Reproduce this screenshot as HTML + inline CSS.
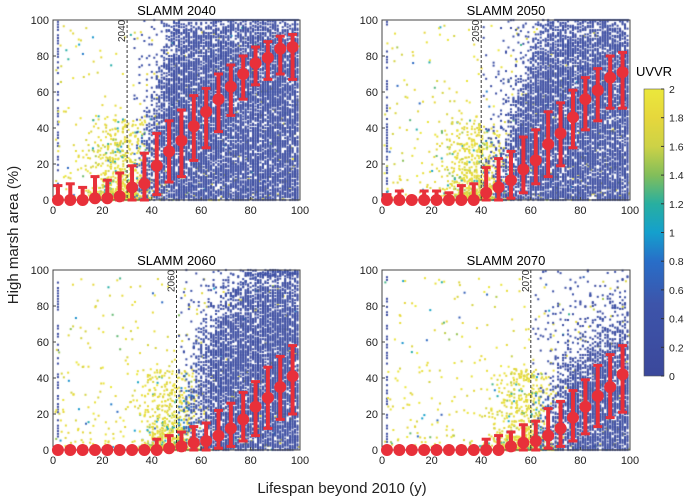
<!DOCTYPE html>
<html><head><meta charset="utf-8"><style>
html,body{margin:0;padding:0;background:#fff;}
#wrap{position:relative;width:685px;height:500px;overflow:hidden;font-family:"Liberation Sans",sans-serif;}
canvas,svg{position:absolute;left:0;top:0;}
</style></head><body>
<div id="wrap">
<canvas id="cv" width="685" height="500"></canvas>
<svg id="sv" width="685" height="500"></svg>
</div>
<script>
const lifespans=[2,7,12,17,22,27,32,37,42,47,52,57,62,67,72,77,82,87,92,97];
const titles=["SLAMM 2040","SLAMM 2050","SLAMM 2060","SLAMM 2070"];
const thresholds=[30,40,50,60];
const mean2040=[0,0,0,1,1,2,7,9,19,27,33,41,49,56,63,70,76,79,84,85];
const upper2040=[8,9,7,13,11,15,19,26,37,44,50,58,62,70,75,80,85,88,91,92];
const lower2040=[0,0,0,0,0,0,0,0,3,10,13,22,29,38,47,56,64,67,70,67];
const mean2050=[0,0,0,0,0,0,0,0,4,7,11,17,22,31,37,46,56,61,68,71];
const upper2050=[3,5,0,5,5,4,8,9,18,23,27,35,39,49,54,61,68,73,80,82];
const lower2050=[0,0,0,0,0,0,0,0,0,0,1,4,9,13,19,29,39,44,51,51];
const mean2060=[0,0,0,0,0,0,0,0,0,1,2,4,5,8,12,17,24,29,35,41];
const upper2060=[0,0,0,0,0,0,0,0,6,8,10,13,15,22,26,32,38,46,52,58];
const lower2060=[0,0,0,0,0,0,0,0,0,0,0,0,0,1,2,5,8,12,17,20];
const mean2070=[0,0,0,0,0,0,0,0,0,0,2,4,5,8,12,18,24,30,35,42];
const upper2070=[0,0,0,0,0,0,0,0,6,8,10,14,16,23,27,33,39,47,53,58];
const lower2070=[0,0,0,0,0,0,0,0,0,0,0,0,0,1,2,5,9,13,18,21];
const xTicks=[0,20,40,60,80,100];
const yTicks=[0,20,40,60,80,100];
const cbTicks=[0,0.2,0.4,0.6,0.8,1,1.2,1.4,1.6,1.8,2];

const means=[mean2040,mean2050,mean2060,mean2070];
const uppers=[upper2040,upper2050,upper2060,upper2070];
const lowers=[lower2040,lower2050,lower2060,lower2070];
const boxes=[{x0:53,x1:300,y0:20,y1:200},{x0:382,x1:630,y0:20,y1:200},{x0:53,x1:300,y0:270,y1:450},{x0:382,x1:630,y0:270,y1:450}];
const NS="http://www.w3.org/2000/svg";
const sv=document.getElementById('sv');
function mk(t,a,p){const e=document.createElementNS(NS,t);for(const k in a)e.setAttribute(k,a[k]);(p||sv).appendChild(e);return e;}
const stops=[[0,[59,72,155]],[0.25,[61,84,170]],[0.4,[40,110,200]],[0.5,[20,160,205]],[0.6,[40,175,160]],[0.7,[130,190,90]],[0.8,[205,210,70]],[0.9,[230,215,60]],[1,[235,232,60]]];
function cmap(v){v=Math.max(0,Math.min(1,v));for(let i=1;i<stops.length;i++){if(v<=stops[i][0]){const a=stops[i-1],b=stops[i];const t=(v-a[0])/(b[0]-a[0]);return 'rgb('+a[1].map((c,j)=>Math.round(c+(b[1][j]-c)*t)).join(',')+')';}}return 'rgb(235,232,60)';}
// deterministic texture generator for the dense point cloud background
let seed=12345;function rnd(){seed=(seed*1103515245+12345)%2147483648;return seed/2147483648;}
const ctx=document.getElementById('cv').getContext('2d');
function lerpEnv(pts,x){if(x<=pts[0][0])return 0;for(let i=1;i<pts.length;i++){if(x<=pts[i][0]){const a=pts[i-1],b=pts[i];return a[1]+(b[1]-a[1])*(x-a[0])/(b[0]-a[0]);}}return pts[pts.length-1][1];}
const envs=[[[32,5],[36,30],[45,75],[52,100],[100,100]],[[40,5],[42,12],[50,40],[60,75],[70,100],[100,100]],[[50,5],[52,30],[60,58],[70,80],[80,95],[100,97]],[[60,5],[62,15],[70,38],[80,52],[100,70]]];
boxes.forEach((b,pi)=>{
  const sx=v=>b.x0+(b.x1-b.x0)*v/100, sy=v=>b.y1-(b.y1-b.y0)*v/100;
  const T=thresholds[pi];
  function dot(x,y,c){ctx.fillStyle=c;ctx.fillRect(sx(x)-1,sy(y)-1,2,2);}
  for(let y=0;y<=100;y+=1.5){if(rnd()<0.5)dot(2,y,cmap(0.08));}
  for(let x=1;x<=99;x++){
    const nY=x<T?4:3;
    for(let k=0;k<nY;k++){const y=Math.pow(rnd(),1.8)*97;dot(x+rnd()*0.6,y,cmap(rnd()<0.15?0.3+rnd()*0.5:0.82+rnd()*0.18));}
    if(x>T-22&&x<T+12){const w=Math.exp(-Math.pow((x-T+3)/9,2));const n=Math.round(45*w);
      for(let k=0;k<n;k++){const y=Math.pow(rnd(),2.6)*45;dot(x+rnd()*0.6,y,cmap(rnd()<0.12?0.5+rnd()*0.3:0.84+rnd()*0.14));}}
    const U=lerpEnv(envs[pi],x);
    if(U>0){
      const d=x-T;
      const dens=Math.min(0.8,0.12+d*0.04);
      for(let y=0;y<=100;y+=0.8){
        const p=dens/(1+Math.exp((y-U)/6));
        if(rnd()<p){dot(x,y,cmap(d<12?0.08+rnd()*0.6*(1-d/12):0.05+rnd()*0.1));}
      }
      for(let k=0;k<4;k++){const y=U+rnd()*(100-U);dot(x,y,cmap(0.08+rnd()*0.15));}
    }
  }
  const g=mk('g',{});
  
  
  const fr=mk('rect',{x:b.x0,y:b.y0,width:b.x1-b.x0,height:b.y1-b.y0,fill:'none',stroke:'#444','stroke-width':1},g);
  
  
  const tt=mk('text',{x:(b.x0+b.x1)/2,y:b.y0-5,'text-anchor':'middle','font-size':13},g);tt.textContent=titles[pi];
  
  
  xTicks.forEach(v=>{mk('line',{x1:sx(v),x2:sx(v),y1:b.y1,y2:b.y1-3,stroke:'#444'},g);const t=mk('text',{x:sx(v),y:b.y1+14,'text-anchor':'middle','font-size':11,fill:'#222'},g);t.textContent=v;
    
    });
  yTicks.forEach(v=>{mk('line',{x1:b.x0,x2:b.x0+3,y1:sy(v),y2:sy(v),stroke:'#444'},g);const t=mk('text',{x:b.x0-4,y:sy(v)+4,'text-anchor':'end','font-size':11,fill:'#222'},g);t.textContent=v;
    
    });
  const dl=mk('line',{x1:sx(T),x2:sx(T),y1:b.y0,y2:b.y1,stroke:'#333','stroke-dasharray':'3,2','stroke-width':1},g);
  
  
  const dt=mk('text',{x:0,y:0,'font-size':10,transform:'translate('+(sx(T)-2)+','+(b.y0+22)+') rotate(-90)',fill:'#333'},g);dt.textContent=titles[pi].split(' ')[1];
  
  
  lifespans.forEach((l,i)=>{
    const cx=sx(l);
    const eb=mk('g',{},g);
    
    
    const yu=sy(uppers[pi][i]),yl=sy(lowers[pi][i]);
    mk('line',{x1:cx,x2:cx,y1:yu,y2:yl,stroke:'#e8303a','stroke-width':4},eb);
    mk('line',{x1:cx-4.5,x2:cx+4.5,y1:yu,y2:yu,stroke:'#e8303a','stroke-width':3},eb);
    mk('line',{x1:cx-4.5,x2:cx+4.5,y1:yl,y2:yl,stroke:'#e8303a','stroke-width':3},eb);
    mk('circle',{cx:cx,cy:sy(means[pi][i]),r:6,fill:'#e8303a'},eb);
  });
});
const cb={x:644,w:20,y0:89,y1:376};
const defs=mk('defs',{});const lg=mk('linearGradient',{id:'pg',x1:0,y1:1,x2:0,y2:0},defs);
stops.forEach(s=>mk('stop',{offset:s[0],'stop-color':cmap(s[0])},lg));
const cbr=mk('rect',{x:cb.x,y:cb.y0,width:cb.w,height:cb.y1-cb.y0,fill:'url(#pg)',stroke:'#555','stroke-width':0.6});


cbTicks.forEach(v=>{const y=cb.y1-(cb.y1-cb.y0)*v/2;mk('line',{x1:cb.x+cb.w-3,x2:cb.x+cb.w,y1:y,y2:y,stroke:'#333'});
  const t=mk('text',{x:cb.x+cb.w+5,y:y+4,'font-size':10.5,fill:'#222'});t.textContent=v;
  
  });
const ct=mk('text',{x:cb.x+cb.w/2,y:cb.y0-13,'text-anchor':'middle','font-size':13});ct.textContent='UVVR';


const xt=mk('text',{x:342,y:493,'text-anchor':'middle','font-size':15,fill:'#222'});xt.textContent='Lifespan beyond 2010 (y)';


const yt=mk('text',{x:0,y:0,'text-anchor':'middle','font-size':15,fill:'#222',transform:'translate(18,235) rotate(-90)'});yt.textContent='High marsh area (%)';


</script>
</body></html>
